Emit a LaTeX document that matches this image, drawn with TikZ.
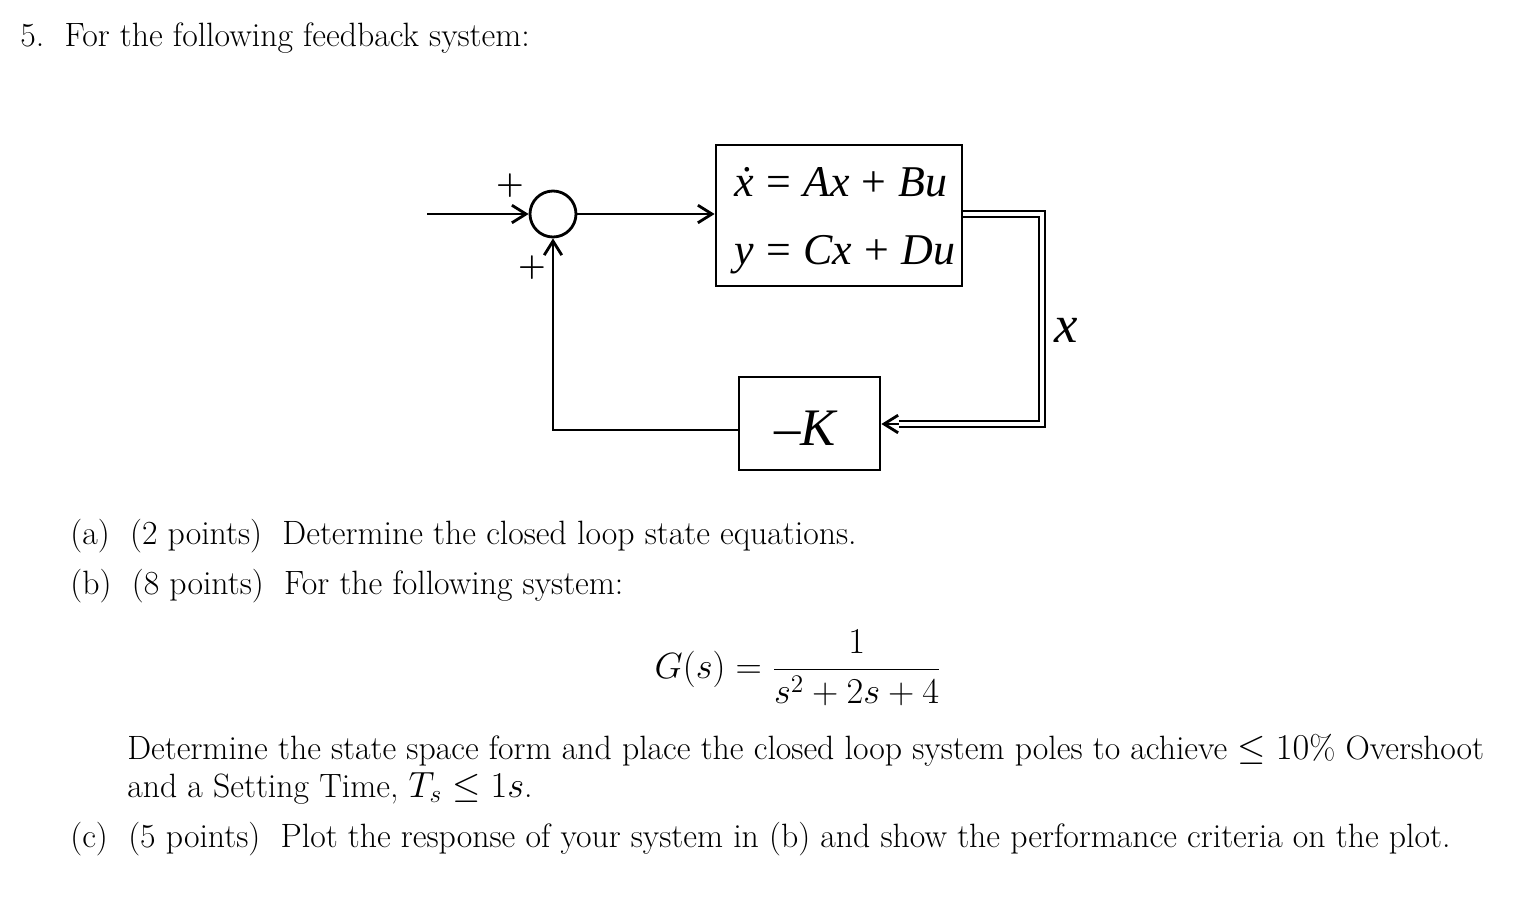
\documentclass[tikz,border=0pt]{standalone}
\usepackage{fontspec}
\usepackage{amsmath}
\newfontfamily\tnr{Liberation Serif}
\usetikzlibrary{arrows.meta}
\begin{document}
\begin{tikzpicture}[x=0.02cm,y=-0.02cm,
  blk/.style={draw,line width=1.6pt,inner sep=0},
  wire/.style={line width=1.6pt},
  arr/.style={wire,-{Straight Barb[length=8pt,width=10pt,line width=1.6pt]}},
  txt/.style={anchor=base west,inner sep=0,font=\fontsize{19.2}{23}\selectfont}]
\useasboundingbox (0,0) rectangle (1515,897);
\node[txt] (t5) at (20,46) {5.\ \ For the following feedback system:};
% block
\node[blk,minimum width=246*0.02cm,minimum height=141*0.02cm] (plant) at (839,215.5) {};
\node[font=\tnr\itshape\fontsize{25}{28}\selectfont,anchor=base] (e1) at (841,196) {\.x\;{\upshape=}\;Ax\;{\upshape+}\;Bu};
\node[font=\tnr\itshape\fontsize{25}{28}\selectfont,anchor=base] (e2) at (845,264) {y\;{\upshape=}\;Cx\;{\upshape+}\;Du};
\node[draw,circle,line width=1.6pt,minimum size=46*0.02cm,inner sep=0] (sum) at (553,214) {};
\node[blk,minimum width=141*0.02cm,minimum height=93*0.02cm] (K) at (809.5,423.5) {};
\node[font=\tnr\itshape\fontsize{30}{34}\selectfont] (Kt) at (805,428) {{\upshape\textendash}K};
\coordinate (in) at (427,214);
\draw[arr] (in) -- (sum.west);
\draw[arr] (sum.east) -- (plant.west |- sum.east);
\coordinate (c1) at (1042,214);
\coordinate (c2) at (1042,424);
\draw[double,double distance=2pt,line width=1pt] (plant.east |- c1) -- (c1) -- (c2) -- ([xshift=10pt]K.east |- c2);
\draw[arr] ([xshift=10pt]K.east |- c2) -- (K.east |- c2);
\coordinate (c3) at (553,430);
\draw[arr] (K.west |- c3) -- (c3) -- (sum.south);
\node[font=\bfseries\fontsize{18}{20}\selectfont] (p1) at (510,186) {+};
\node[font=\bfseries\fontsize{18}{20}\selectfont] (p2) at (532,268) {+};
\node[font=\tnr\itshape\fontsize{30}{34}\selectfont] (xl) at (1066,330) {x};
\node[txt] (a) at (70,544) {(a)\ \ (2 points)\ \ Determine the closed loop state equations.};
\node[txt] (b) at (70,594) {(b)\ \ (8 points)\ \ For the following system:};
\node[inner sep=0,font=\fontsize{19.2}{23}\selectfont] (G) at (798,668) {$\displaystyle G(s)=\frac{1}{s^2+2s+4}$};
\node[txt] (d1) at (127,759) {Determine the state space form and place the closed loop system poles to achieve $\le 10\%$ Overshoot};
\node[txt] (d2) at (127,797) {and a Setting Time, $T_s\le 1s$.};
\node[txt] (c) at (70,847) {(c)\ \ (5 points)\ \ Plot the response of your system in (b) and show the performance criteria on the plot.};
\end{tikzpicture}
\end{document}
